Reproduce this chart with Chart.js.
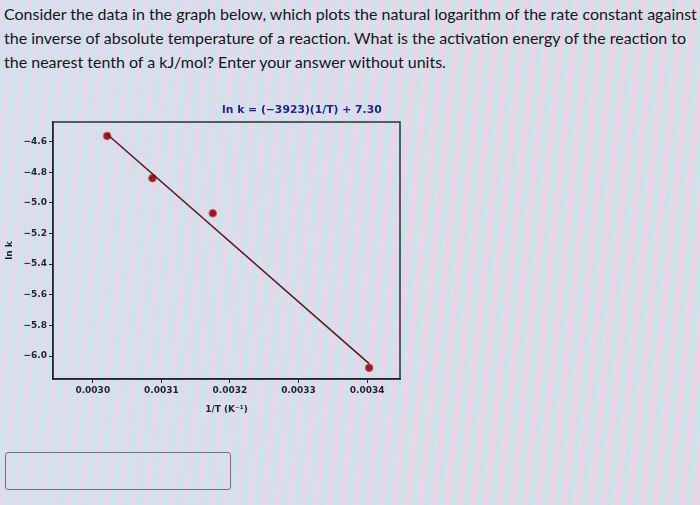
<!DOCTYPE html>
<html>
<head>
<meta charset="utf-8">
<script src="https://cdn.jsdelivr.net/npm/chart.js@4.4.0/dist/chart.umd.min.js"></script>
<style>
  html, body { margin: 0; padding: 0; }
  body {
    width: 700px; height: 505px; overflow: hidden; position: relative;
    background-color: #dde4ef;
    background-image:
      linear-gradient(90deg, rgba(215,225,240,0.55) 0px, rgba(215,225,240,0.3) 300px, rgba(215,225,240,0) 460px),
      repeating-linear-gradient(96deg, rgba(250,195,225,0.5) 0px, rgba(250,195,225,0.5) 5px, rgba(160,235,215,0.45) 9px, rgba(200,215,245,0.3) 13px);
  }
  #question {
    position: absolute; left: 4px; top: 2px; width: 700px;
    font-family: Lato, sans-serif; font-size: 16px; line-height: 24px;
    color: #161616; white-space: nowrap;
  }
  #eq {
    position: absolute; left: 222px; top: 103px;
    font-family: "DejaVu Sans", sans-serif; font-weight: bold; font-size: 10.8px;
    color: #1f2590; white-space: nowrap;
  }
  #answer {
    position: absolute; left: 5px; top: 452px; width: 224px; height: 36px;
    border: 1.5px solid #6d7484; border-radius: 3px;
  }
  #wrap { position: absolute; left: 0; top: 0; width: 700px; height: 505px; }
</style>
</head>
<body>
<div id="question">Consider the data in the graph below, which plots the natural logarithm of the rate constant against<br>the inverse of absolute temperature of a reaction. What is the activation energy of the reaction to<br>the nearest tenth of a kJ/mol? Enter your answer without units.</div>
<div id="wrap"><canvas id="myChart"></canvas></div>
<div id="eq">ln k = (−3923)(1/T) + 7.30</div>
<div id="answer"></div>
<script>
// data
let invT = [0.003021, 0.003087, 0.003175, 0.003403];
let lnK = [-4.563, -4.839, -5.068, -6.077];
let fitX = [0.003021, 0.003403];
let fitY = [-4.552, -6.050];
let xTicks = [0.0030, 0.0031, 0.0032, 0.0033, 0.0034];
let yTicks = [-4.6, -4.8, -5.0, -5.2, -5.4, -5.6, -5.8, -6.0];

let inkColor = '#1d2433';

let frame = {
    id: 'frame',
    afterDraw(chart){
        let a = chart.chartArea;
        let ctx = chart.ctx;
        ctx.save();
        ctx.strokeStyle = inkColor;
        ctx.lineWidth = 1.4;
        ctx.strokeRect(a.left, a.top, a.right - a.left, a.bottom - a.top);
        ctx.restore();
    }
};

let minus = v => (v < 0 ? '\u2212' : '') + Math.abs(v).toFixed(1);

new Chart('myChart', {
    type: 'scatter',
    data: {
        datasets: [{
            type: 'line',
            data: fitX.map((x, i) => ({x: x, y: fitY[i]})),
            borderColor: '#5a1c1c',
            borderWidth: 1.6,
            pointRadius: 0,
            fill: false
        }, {
            data: invT.map((x, i) => ({x: x, y: lnK[i]})),
            backgroundColor: '#9c1535',
            borderColor: '#c45a3a',
            borderWidth: 1,
            pointRadius: 3.8
        }]
    },
    plugins: [frame],
    options: {
        responsive: true,
        maintainAspectRatio: false,
        animation: false,
        layout: { padding: { left: 0, right: 300, top: 122, bottom: 86 } },
        plugins: { legend: { display: false }, tooltip: { enabled: false } },
        scales: {
            x: {
                type: 'linear',
                min: 0.002942,
                max: 0.003448,
                afterFit: s => { s.height = 40; },
                afterBuildTicks: s => { s.ticks = xTicks.map(v => ({value: v})); },
                grid: { drawOnChartArea: false, color: inkColor, tickLength: 4, lineWidth: 1 },
                border: { color: inkColor, width: 1.4 },
                ticks: {
                    color: inkColor, padding: 2, maxRotation: 0,
                    font: { family: 'DejaVu Sans', size: 9, weight: 'bold' },
                    callback: v => v.toFixed(4)
                },
                title: {
                    display: true, text: '1/T (K\u207B\u00B9)', color: inkColor, padding: { top: 0 },
                    font: { family: 'DejaVu Sans', size: 9, weight: 'bold' }
                }
            },
            y: {
                min: -6.15,
                max: -4.472,
                afterFit: s => { s.width = 53; },
                afterBuildTicks: s => { s.ticks = yTicks.map(v => ({value: v})); },
                grid: { drawOnChartArea: false, color: inkColor, tickLength: 4, lineWidth: 1 },
                border: { color: inkColor, width: 1.4 },
                ticks: {
                    color: inkColor, padding: 2,
                    font: { family: 'DejaVu Sans', size: 9, weight: 'bold' },
                    callback: v => minus(v)
                },
                title: {
                    display: true, text: 'ln k', color: inkColor, padding: { bottom: 0 },
                    font: { family: 'DejaVu Sans', size: 9, weight: 'bold' }
                }
            }
        }
    }
});
</script>
</body>
</html>
